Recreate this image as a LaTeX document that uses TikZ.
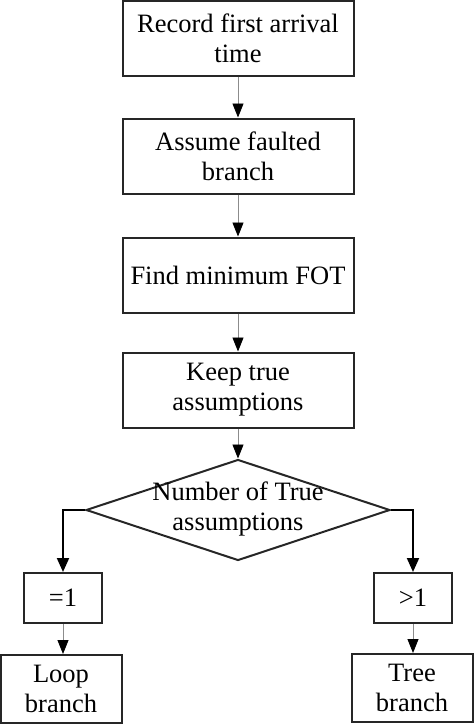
\documentclass[tikz,border=0pt]{standalone}
\usepackage{fontspec}
\setmainfont{Liberation Serif}
\usetikzlibrary{shapes.geometric,arrows.meta}
\begin{document}
\begin{tikzpicture}[x=1pt, y=-1pt,
  every node/.style={align=center, font=\fontsize{26.5}{30}\selectfont},
  procbox/.style={draw=black!85, line width=2pt, minimum width=231pt, minimum height=75pt, inner sep=0pt},
  smallbox/.style={draw=black!85, line width=2pt, minimum width=78pt, minimum height=50pt, inner sep=0pt},
  endbox/.style={draw=black!85, line width=2pt, minimum width=121pt, minimum height=68pt, inner sep=0pt},
  decision/.style={diamond, draw=black!85, line width=2pt, minimum width=304pt, minimum height=101pt, inner sep=0pt},
  flow/.style={draw=black!45, line width=0.9pt, -{Triangle[length=14pt, width=11pt, color=black]}},
  sideflow/.style={draw=black, line width=2pt, -{Triangle[length=14pt, width=12pt, color=black]}}
]
\useasboundingbox (0,0) rectangle (474,724);
\node[procbox] (rec) at (238,38) {Record first arrival\\time};
\node[procbox] (assume) at (238,156) {Assume faulted\\branch};
\node[procbox] (fot) at (238,275) {Find minimum FOT};
\node[procbox] (keep) at (238,390) {Keep true\\assumptions};
\node[decision] (num) at (238,510) {};
\node (numtxt) at (238,509) {Number of True\\assumptions};
\node[smallbox] (eq) at (63,598) {=1};
\node[smallbox] (gt) at (413,598) {>1};
\node[endbox] (loop) at (61,689) {Loop\\branch};
\node[endbox] (tree) at (412,688) {Tree\\branch};
\draw[flow] (rec) -- (assume);
\draw[flow] (assume) -- (fot);
\draw[flow] (fot) -- (keep);
\draw[flow] (keep) -- (num);
\draw[sideflow] (num.west) -| (eq.north);
\draw[sideflow] (num.east) -| (gt.north);
\draw[flow] (eq.south) -- (eq.south |- loop.north);
\draw[flow] (gt.south) -- (gt.south |- tree.north);
\end{tikzpicture}
\end{document}
